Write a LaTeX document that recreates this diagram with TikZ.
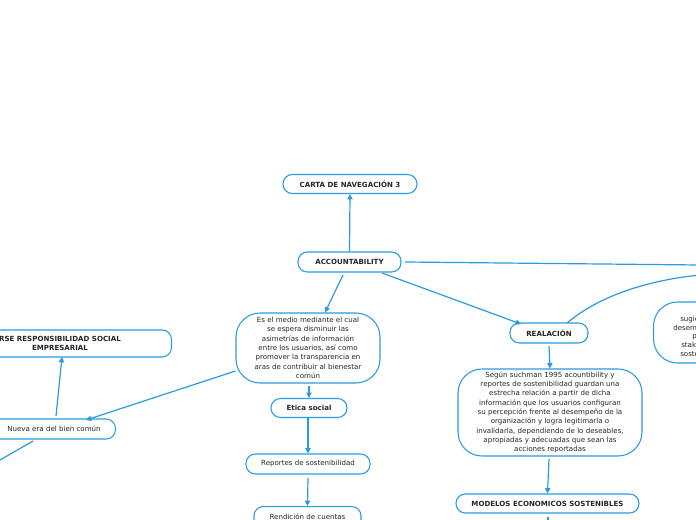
\documentclass[tikz,border=0pt]{standalone}
\usepackage{fontspec}
\setmainfont{DejaVu Sans}
\usetikzlibrary{arrows.meta}
\definecolor{bl}{HTML}{2A9BE0}
\begin{document}
\begin{tikzpicture}[x=0.75pt,y=-0.75pt,
 box/.style={draw=bl,line width=0.8pt,rounded corners=7pt,fill=white,inner sep=0pt,align=center,font=\fontsize{5.3}{7}\selectfont,text=black!85},
 big/.style={box,rounded corners=18pt},
 txt/.style={inner sep=0pt,align=center,font=\fontsize{5.3}{7}\selectfont,text=black!85},
 con/.style={draw=bl,line width=0.9pt,-{Triangle[length=4pt,width=4pt]}},
 lin/.style={draw=bl,line width=0.9pt}]
\useasboundingbox (0,0) rectangle (696,520);
\clip (0,0) rectangle (696,520);
\node[box,minimum width=134*0.75pt,minimum height=19*0.75pt] (carta) at (350,184) {\textbf{CARTA DE NAVEGACIÓN 3}};
\node[box,minimum width=103*0.75pt,minimum height=20*0.75pt] (acc) at (349.5,262) {\textbf{ACCOUNTABILITY}};
\node[big,minimum width=144*0.75pt,minimum height=70*0.75pt] (medio) at (308,348) {Es el medio mediante el cual\\se espera disminuir las\\asimetrías de información\\entre los usuarios, así como\\promover la transparencia en\\aras de contribuir al bienestar\\común};
\node[box,minimum width=76*0.75pt,minimum height=19*0.75pt] (etica) at (309,408) {\textbf{Etica social}};
\node[box,minimum width=124*0.75pt,minimum height=20*0.75pt] (rep) at (308,464) {Reportes de sostenibilidad};
\node[box,minimum width=107*0.75pt,minimum height=30*0.75pt,anchor=north] (rend) at (307.5,506) {};
\node[txt] (rendt) at (307.5,516.5) {Rendición de cuentas};
\node[box,minimum width=78*0.75pt,minimum height=20*0.75pt] (rea) at (549,333) {\textbf{REALACIÓN}};
\node[big,minimum width=184*0.75pt,minimum height=87*0.75pt] (segun) at (550,412.5) {Según suchman 1995 acountibility y\\reportes de sostenibilidad guardan una\\estrecha relación a partir de dicha\\información que los usuarios configuran\\su percepción frente al desempeño de la\\organización y logra legitimarla o\\invalidarla, dependiendo de lo deseables,\\apropiadas y adecuadas que sean las\\acciones reportadas};
\node[box,minimum width=183*0.75pt,minimum height=19*0.75pt] (mod) at (547.5,503.5) {\textbf{MODELOS ECONOMICOS SOSTENIBLES}};
\node[box,minimum width=200*0.75pt,minimum height=27*0.75pt,anchor=east] (rse) at (172,343.5) {};
\node[txt] (rset) at (60,343.5) {\textbf{RSE RESPONSIBILIDAD SOCIAL}\\\textbf{EMPRESARIAL}};
\node[box,minimum width=160*0.75pt,minimum height=20*0.75pt,anchor=east] (nueva) at (116,429) {};
\node[txt] (nuevat) at (54,429) {Nueva era del bien común};
\node[big,minimum width=100*0.75pt,minimum height=61*0.75pt,anchor=west] (sug) at (653,332.5) {};
\node[txt,anchor=west] (s1) at (680,320) {sugie};
\node[txt,anchor=west] (s2) at (673,328) {desem};
\node[txt,anchor=west] (s3) at (692,337) {p};
\node[txt,anchor=west] (s4) at (681,345) {stak};
\node[txt,anchor=west] (s5) at (680,354) {soste};
\coordinate (r1) at (700,265);
\coordinate (r2) at (700,275);
\coordinate (d1) at (0,460);
\coordinate (d2) at (548,525);
\draw[con] (acc.north) -- (carta.south);
\draw[con] (343,275) -- (medio.north -| 325,0);
\draw[con] (382,273) -- (521,324);
\draw[lin] (405,262) -- (r1);
\draw[lin] (567,323) .. controls (600,295) and (650,280) .. (r2);
\draw[con] (medio.west |- 0,371) -- (86,420);
\draw[con] (56,416) -- (62,357);
\draw[lin] (33,441) -- (d1);
\draw[con] (309,386) -- (etica.north);
\draw[con] (308,418) -- (rep.north);
\draw[con] (308,478) -- (rend.north);
\draw[con] (549,346) -- (segun.north);
\draw[con] (549,459) -- (mod.north);
\draw[lin] (548,517) -- (d2);
\end{tikzpicture}
\end{document}
